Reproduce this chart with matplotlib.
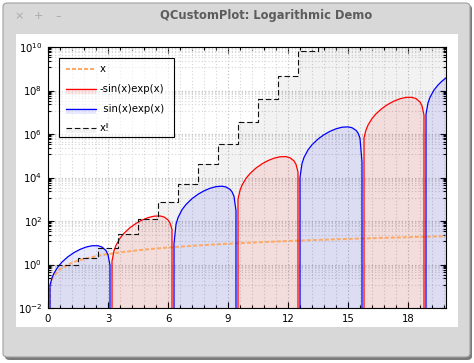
import numpy as np
import matplotlib
matplotlib.use("Agg")
import matplotlib.pyplot as plt
from matplotlib.patches import Rectangle, FancyBboxPatch
from matplotlib.lines import Line2D

W, H = 474, 363

# sample positions and sin(x)*exp(x)
xs = [0.0, 0.1, 0.2, 0.3, 0.5, 0.7, 1.0, 1.3, 1.6, 1.9, 2.2, 2.5, 2.7, 2.9, 3.0, 3.1,
      3.2, 3.3, 3.4, 3.6, 3.8, 4.1, 4.4, 4.7, 5.0, 5.3, 5.6, 5.8, 6.0, 6.1, 6.2,
      6.3, 6.4, 6.5, 6.7, 6.9, 7.2, 7.5, 7.8, 8.1, 8.4, 8.7, 8.9, 9.1, 9.2, 9.3, 9.4,
      9.5, 9.6, 9.7, 9.9, 10.1, 10.4, 10.7, 11.0, 11.3, 11.6, 11.9, 12.1, 12.3, 12.4, 12.5,
      12.6, 12.7, 12.8, 13.0, 13.2, 13.5, 13.8, 14.1, 14.4, 14.7, 15.0, 15.2, 15.4, 15.5, 15.6, 15.7,
      15.8, 15.9, 16.0, 16.2, 16.4, 16.7, 17.0, 17.3, 17.6, 17.9, 18.2, 18.4, 18.6, 18.7, 18.8,
      18.9, 19.0, 19.1, 19.3, 19.5, 19.7, 19.9]
sin_exp = [0, 0.110, 0.243, 0.399, 0.790, 1.297, 2.287, 3.536, 4.951, 6.327, 7.297, 7.291, 6.359, 4.348, 2.835, 0.923,
           -1.432, -4.277, -7.657, -16.20, -27.35, -49.38, -77.51, -109.9, -142.3, -166.7, -170.7, -153.5, -112.7, -81.22, -40.94,
           9.156, 70.14, 143.1, 328.9, 574.0, 1063, 1696, 2437, 3195, 3800, 3980, 3674, 2858, 2206, 1361, 299.5,
           -1004, -2574, -4434, -9119, -15216, -27202, -42432, -59874, -77106, -89769, -91031, -80880, -57831, -40209, -17797,
           9971, 43666, 83857, 1.859e5, 3.199e5, 5.863e5, 9.292e5, 1.328e6, 1.732e6, 2.048e6, 2.126e6, 1.942e6, 1.478e6, 1.113e6, 6.418e5, 5.242e4,
           -6.687e5, -1.535e6, -2.558e6, -5.127e6, -8.459e6, -1.498e7, -2.322e7, -3.260e7, -4.176e7, -4.831e7, -4.851e7, -4.257e7, -2.955e7, -1.970e7, -7.239e6,
           8.143e6, 2.675e7, 4.889e7, 1.049e8, 1.782e8, 2.701e8, 3.809e8]
neg_sin_exp = [-v for v in sin_exp]

fact_keys = list(range(21))
fact_vals = [1, 1, 2, 6, 24, 120, 720, 5040, 40320, 362880, 3628800, 39916800,
             479001600, 6227020800, 87178291200, 1307674368000, 20922789888000,
             355687428096000, 6402373705728000, 121645100408832000, 2432902008176640000]

names = ["x", "-sin(x)exp(x)", " sin(x)exp(x)", "x!"]
x_ticks = [0, 3, 6, 9, 12, 15, 18]
y_exponents = [-2, 0, 2, 4, 6, 8, 10]

orange = (255/255, 170/255, 100/255)
red_fill = (1, 0, 0, 0.09)
blue_fill = (0, 0, 1, 0.09)
gray_fill = (0, 0, 0, 0.05)


def fx(x):
    return x / W


def fy(y):
    return 1 - y / H


fig = plt.figure(figsize=(W / 100, H / 100), dpi=100, facecolor="white")

# window frame
fig.add_artist(FancyBboxPatch((fx(5), fy(360)), fx(467), 355 / H,
                              boxstyle="round,pad=0,rounding_size=0.01",
                              transform=fig.transFigure, facecolor="#7a7a7a",
                              edgecolor="none", zorder=-3))
fig.add_artist(FancyBboxPatch((fx(3), fy(357)), fx(467), 354 / H,
                              boxstyle="round,pad=0,rounding_size=0.01",
                              transform=fig.transFigure, facecolor="#d8d8d8",
                              edgecolor="#a0a0a0", linewidth=0.8, zorder=-2))
fig.add_artist(Rectangle((fx(16), fy(327)), fx(442), 293 / H, transform=fig.transFigure,
                         facecolor="white", edgecolor="none", zorder=-1))
fig.text(fx(266), fy(16), "QCustomPlot: Logarithmic Demo", ha="center", va="center",
         fontsize=8.3, fontweight="bold", color="#5c5c5c")
for bx, sym in [(19, "\u00d7"), (38, "+"), (58, "\u2013")]:
    fig.text(fx(bx), fy(16), sym, ha="center", va="center", fontsize=8, color="#a8a8a8")

ax = fig.add_axes([fx(48), fy(308), 398 / W, 261 / H])
ax.set_yscale("log")

ax.plot(xs, xs, color=orange, lw=1.44, linestyle=(0, (2, 1)), zorder=3)
ax.fill_between(xs, neg_sin_exp, 0, color=red_fill, linewidth=0, zorder=2)
ax.plot(xs, neg_sin_exp, color="#ff0000", lw=0.9, zorder=4)
ax.fill_between(xs, sin_exp, 0, color=blue_fill, linewidth=0, zorder=2)
ax.plot(xs, sin_exp, color="#0000ff", lw=0.9, zorder=4)
ax.fill_between(fact_keys, fact_vals, 0, step="mid", color=gray_fill, linewidth=0, zorder=2)
ax.step(fact_keys, fact_vals, where="mid", color="#111111", lw=0.8,
        linestyle=(0, (5, 2.5)), zorder=5)

ax.set_xlim(0, 19.9)
ax.set_ylim(1e-2, 1e10)

ax.set_xticks(x_ticks)
ax.set_xticklabels([str(t) for t in x_ticks])
ax.set_xticks(np.arange(0, 19.9, 0.6), minor=True)
ax.set_yticks([10.0 ** e for e in y_exponents])
ax.set_yticklabels([f"$10^{{{e}}}$" for e in y_exponents])
minor_y = [10.0 ** e * (1 + 11 * j) for e in y_exponents[:-1] for j in range(1, 9)]
ax.set_yticks(minor_y, minor=True)
ax.yaxis.set_minor_formatter(matplotlib.ticker.NullFormatter())

ax.tick_params(which="both", direction="in", top=True, right=True, width=0.8,
               colors="black", labelsize=7.3, pad=4)
ax.tick_params(which="major", length=4)
ax.tick_params(which="minor", length=2)
for sp in ax.spines.values():
    sp.set_linewidth(0.8)
    sp.set_color("black")

ax.set_axisbelow(True)
ax.grid(which="major", color="#bdbdbd", linestyle=(0, (1, 2)), linewidth=0.8)
ax.grid(which="minor", color="#d6d6d6", linestyle=(0, (1, 2)), linewidth=0.8)

# legend, top-left inset
fig.add_artist(Rectangle((fx(59), fy(137)), fx(115), 79 / H, transform=fig.transFigure,
                         facecolor=(1, 1, 1, 150 / 255), edgecolor="black",
                         linewidth=0.8, zorder=10))
rows = [68.5, 88.5, 108.5, 127.5]
styles = [
    dict(color=orange, lw=1.44, linestyle=(0, (2, 1)), fill=None),
    dict(color="#ff0000", lw=0.9, linestyle="-", fill=red_fill),
    dict(color="#0000ff", lw=0.9, linestyle="-", fill=blue_fill),
    dict(color="#111111", lw=0.8, linestyle=(0, (5, 2.5)), fill=gray_fill),
]
for yy, name, st in zip(rows, names, styles):
    if st["fill"] is not None:
        fig.add_artist(Rectangle((fx(66), fy(yy + 5)), fx(30), 5 / H,
                                 transform=fig.transFigure, facecolor=st["fill"],
                                 edgecolor="none", zorder=11))
    fig.add_artist(Line2D([fx(66), fx(96)], [fy(yy), fy(yy)], transform=fig.transFigure,
                          color=st["color"], lw=st["lw"], linestyle=st["linestyle"], zorder=12))
    fig.text(fx(100), fy(yy), name, ha="left", va="center", fontsize=7.3,
             color="black", zorder=12)

fig.savefig("out.png", dpi=100, facecolor=fig.get_facecolor())
